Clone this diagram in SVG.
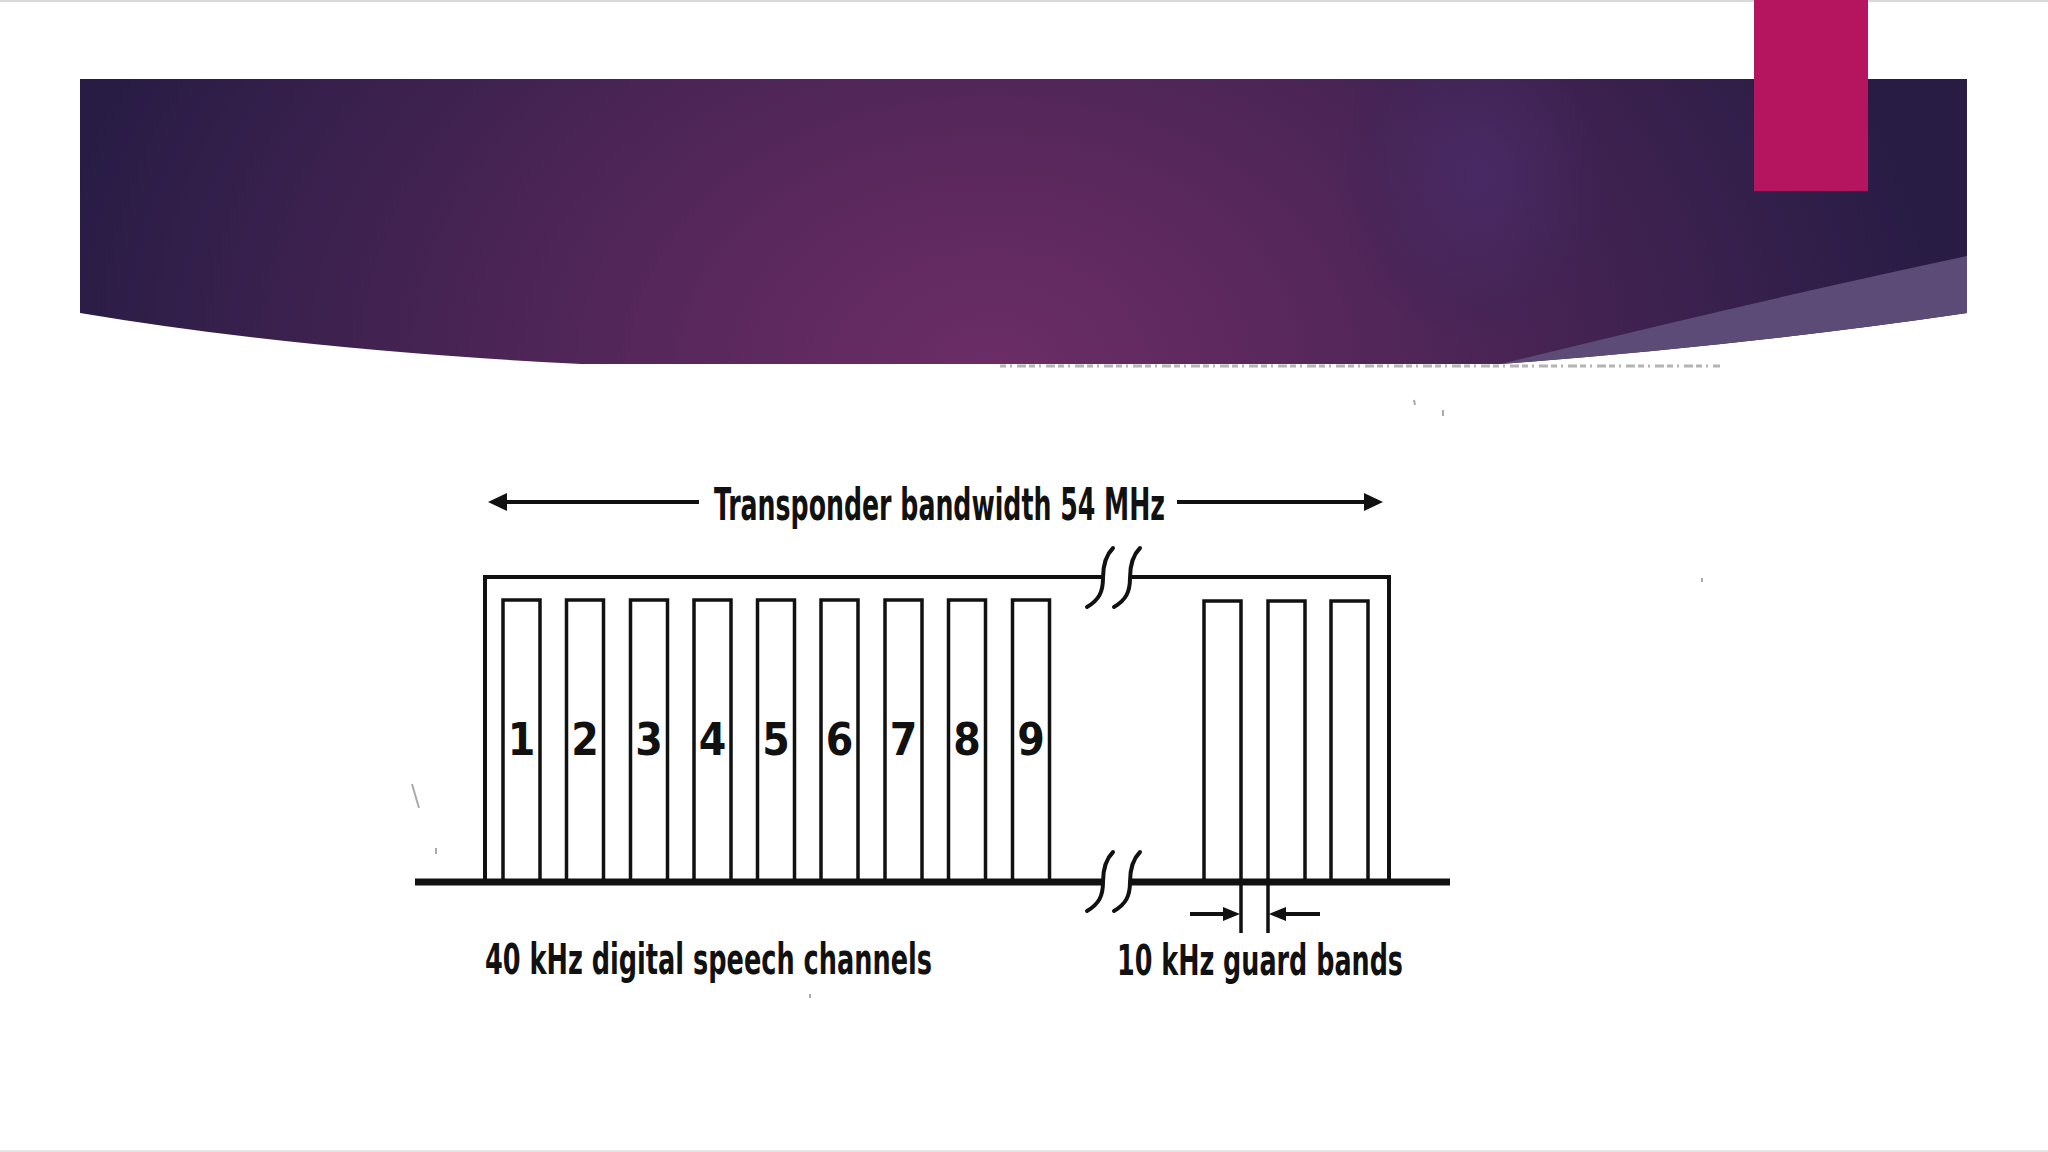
<svg xmlns="http://www.w3.org/2000/svg" width="2048" height="1152" viewBox="0 0 2048 1152">
  <defs>
    <style>
      .ln { fill: none; stroke: #111; stroke-width: 3.5; stroke-linejoin: miter; }
      .env { fill: none; stroke: #111; stroke-width: 4; }
      .base { fill: none; stroke: #111; stroke-width: 7; }
      .brk { fill: none; stroke: #111; stroke-width: 4; stroke-linecap: round; }
      .arr { stroke: #111; stroke-width: 4; }
      .gline { stroke: #111; stroke-width: 3.5; }
      .head { fill: #111; }
      .lbl { font-family: "Liberation Sans Narrow", "DejaVu Sans Condensed", "Liberation Sans", sans-serif; font-weight: bold; fill: #111; }
      .num { font-family: "Liberation Sans Narrow", "DejaVu Sans Condensed", "Liberation Sans", sans-serif; font-weight: bold; fill: #111; font-size: 44px; text-anchor: middle; }
      .speck { stroke: #aaa; stroke-width: 2; }
    </style>
    <radialGradient id="bandGrad" gradientUnits="userSpaceOnUse" cx="990" cy="370" r="950" gradientTransform="translate(990 370) scale(1 0.75) translate(-990 -370)">
      <stop offset="0" stop-color="#6C2D67"/>
      <stop offset="0.3" stop-color="#5A285C"/>
      <stop offset="0.6" stop-color="#452353"/>
      <stop offset="1" stop-color="#281C45"/>
    </radialGradient>
    <radialGradient id="glow" gradientUnits="userSpaceOnUse" cx="1476" cy="175" r="140" gradientTransform="translate(1476 175) scale(1 1.2) translate(-1476 -175)">
      <stop offset="0" stop-color="#4A2A66" stop-opacity="0.9"/>
      <stop offset="0.6" stop-color="#45285F" stop-opacity="0.5"/>
      <stop offset="1" stop-color="#3A2254" stop-opacity="0"/>
    </radialGradient>
  </defs>

  <rect width="2048" height="1152" fill="#ffffff"/>
  <line x1="0" y1="1" x2="2048" y2="1" stroke="#d8d8d8" stroke-width="2"/>
  <line x1="0" y1="1151" x2="2048" y2="1151" stroke="#e4e4e4" stroke-width="2"/>

  <g id="header">
    <path d="M80,79 H1967 V313 Q1750,345 1501,364 H581 Q300,350 80,313 Z" fill="url(#bandGrad)"/>
    <path d="M80,79 H1967 V313 Q1750,345 1501,364 H581 Q300,350 80,313 Z" fill="url(#glow)"/>
    <path d="M1967,256 Q1760,300 1501,364 Q1750,345 1967,313 Z" fill="#5C4A77"/>
    <line x1="1000" y1="366" x2="1720" y2="366" stroke="#777" stroke-width="3" stroke-dasharray="6 4 2 5 9 3" opacity="0.55"/>
  </g>

  <g id="accent-bar">
    <rect x="1754" y="0" width="114" height="191" fill="#B5145F"/>
  </g>

  <g id="stray-marks">
    <line class="speck" x1="1414" y1="400" x2="1415" y2="405"/>
    <line class="speck" x1="1443" y1="410" x2="1443" y2="416"/>
    <line class="speck" x1="1702" y1="578" x2="1702" y2="582"/>
    <line class="speck" x1="412" y1="784" x2="419" y2="808"/>
    <line class="speck" x1="436" y1="848" x2="436" y2="854"/>
    <line class="speck" x1="810" y1="994" x2="810" y2="998"/>
  </g>

  <g id="envelope">
    <path class="env" d="M485,882 V577 H1103"/>
    <path class="env" d="M1130,577 H1389 V882"/>
  </g>

  <g id="channels">
    <g id="ch1"><path class="ln" d="M503,882 V600 H540 V882"/><text class="num" x="521.5" y="755">1</text></g>
    <g id="ch2"><path class="ln" d="M566.5,882 V600 H603.5 V882"/><text class="num" x="585" y="755">2</text></g>
    <g id="ch3"><path class="ln" d="M630.5,882 V600 H667.5 V882"/><text class="num" x="649" y="755">3</text></g>
    <g id="ch4"><path class="ln" d="M694,882 V600 H731 V882"/><text class="num" x="712.5" y="755">4</text></g>
    <g id="ch5"><path class="ln" d="M757.5,882 V600 H794.5 V882"/><text class="num" x="776" y="755">5</text></g>
    <g id="ch6"><path class="ln" d="M821,882 V600 H858 V882"/><text class="num" x="839.5" y="755">6</text></g>
    <g id="ch7"><path class="ln" d="M885,882 V600 H922 V882"/><text class="num" x="903.5" y="755">7</text></g>
    <g id="ch8"><path class="ln" d="M948.5,882 V600 H985.5 V882"/><text class="num" x="967" y="755">8</text></g>
    <g id="ch9"><path class="ln" d="M1012.5,882 V600 H1049.5 V882"/><text class="num" x="1031" y="755">9</text></g>
    <g id="chA"><path class="ln" d="M1204,882 V601 H1241 V882"/></g>
    <g id="chB"><path class="ln" d="M1268,882 V601 H1305 V882"/></g>
    <g id="chC"><path class="ln" d="M1331,882 V601 H1368 V882"/></g>
  </g>

  <g id="baseline">
    <path class="base" d="M415,882 H1103"/>
    <path class="base" d="M1130,882 H1450"/>
  </g>

  <g id="breaks">
    <path class="brk" d="M1087,607 C1099,600 1103,592 1103,578 C1103,564 1106,555 1113,548"/>
    <path class="brk" d="M1114,607 C1126,600 1130,592 1130,578 C1130,564 1133,555 1140,548"/>
    <path class="brk" d="M1087,911 C1099,904 1103,896 1103,882 C1103,868 1106,859 1113,852"/>
    <path class="brk" d="M1114,911 C1126,904 1130,896 1130,882 C1130,868 1133,859 1140,852"/>
  </g>

  <g id="connectors">
    <line class="arr" x1="500" y1="502" x2="699" y2="502"/>
    <polygon class="head" points="488,502 507,493 507,511"/>
    <line class="arr" x1="1177" y1="502" x2="1370" y2="502"/>
    <polygon class="head" points="1383,502 1364,493 1364,511"/>
    <line class="gline" x1="1241" y1="882" x2="1241" y2="933"/>
    <line class="gline" x1="1268" y1="882" x2="1268" y2="933"/>
    <line class="arr" x1="1190" y1="914" x2="1228" y2="914"/>
    <polygon class="head" points="1240,914 1223,907 1223,921"/>
    <line class="arr" x1="1281" y1="914" x2="1320" y2="914"/>
    <polygon class="head" points="1269,914 1286,907 1286,921"/>
  </g>

  <g id="labels">
    <text class="lbl" x="714" y="520" font-size="44" textLength="451" lengthAdjust="spacingAndGlyphs">Transponder bandwidth 54 MHz</text>
    <text class="lbl" x="485" y="974" font-size="43" textLength="447" lengthAdjust="spacingAndGlyphs">40 kHz digital speech channels</text>
    <text class="lbl" x="1117" y="975" font-size="43" textLength="286" lengthAdjust="spacingAndGlyphs">10 kHz guard bands</text>
  </g>
</svg>
